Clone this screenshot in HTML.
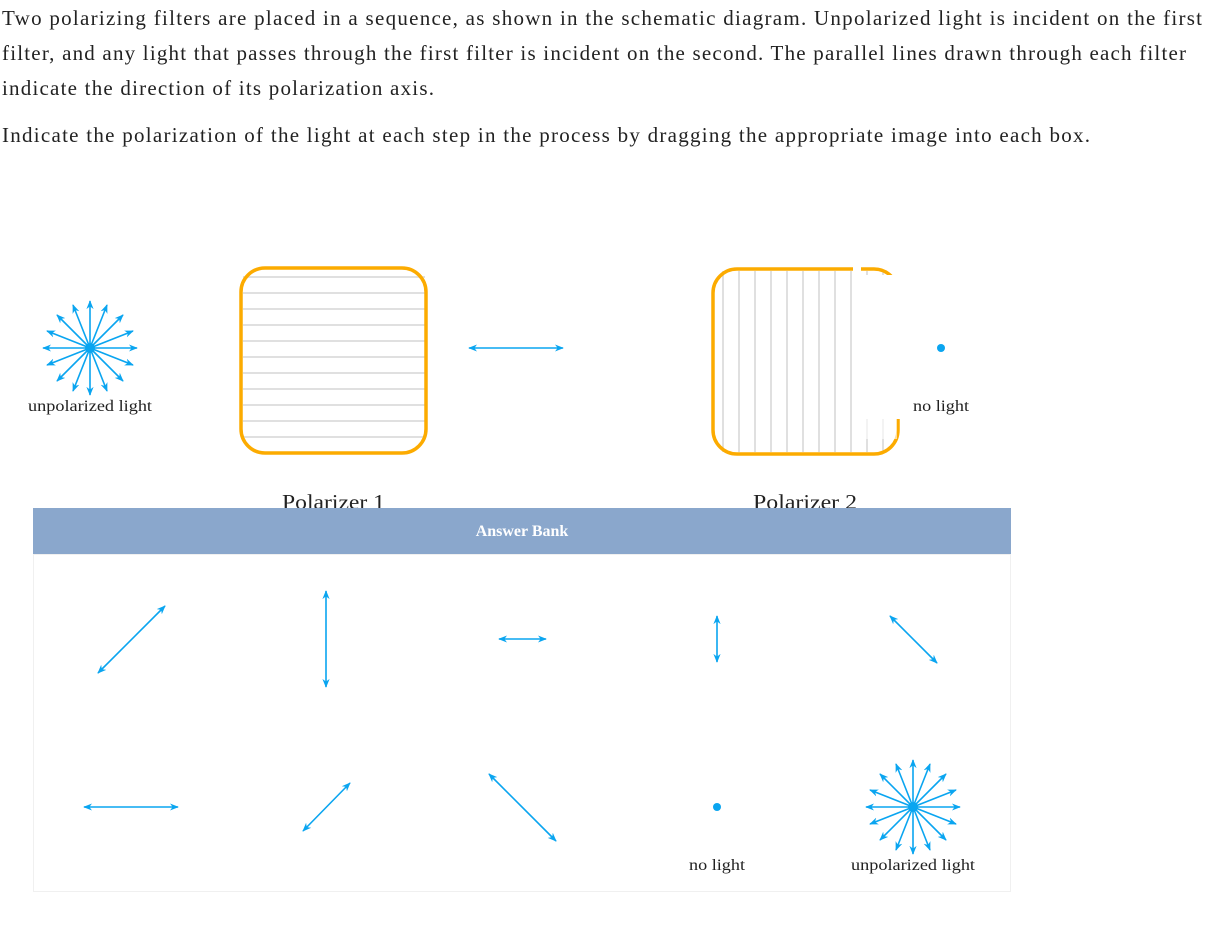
<!DOCTYPE html>
<html><head><meta charset="utf-8"><style>
html,body{margin:0;padding:0;background:#fff;width:1222px;height:951px;overflow:hidden}
svg{display:block}
text{font-family:"Liberation Serif",serif;fill:#222}
</style></head><body>
<svg width="1222" height="951" viewBox="0 0 1222 951" xmlns="http://www.w3.org/2000/svg">
<defs>
<marker id="a" viewBox="0 0 10 10" refX="9" refY="5" markerWidth="9" markerHeight="9" markerUnits="userSpaceOnUse" orient="auto-start-reverse">
<path d="M0,1 L10,5 L0,9 L3,5 Z" fill="#0aa5f0"/></marker>
</defs>
<g font-size="21">
<text x="2" y="25" textLength="1200" lengthAdjust="spacing">Two polarizing filters are placed in a sequence, as shown in the schematic diagram. Unpolarized light is incident on the first</text>
<text x="2" y="60" textLength="1184" lengthAdjust="spacing">filter, and any light that passes through the first filter is incident on the second. The parallel lines drawn through each filter</text>
<text x="2" y="95" textLength="432" lengthAdjust="spacing">indicate the direction of its polarization axis.</text>
<text x="2" y="142" textLength="1088" lengthAdjust="spacing">Indicate the polarization of the light at each step in the process by dragging the appropriate image into each box.</text>
</g>
<g stroke="#0aa5f0" stroke-width="1.6" fill="none" marker-start="url(#a)" marker-end="url(#a)">
<line x1="43" y1="348" x2="137" y2="348"/>
<line x1="90" y1="301" x2="90" y2="395"/>
<line x1="57" y1="315" x2="123" y2="381"/>
<line x1="123" y1="315" x2="57" y2="381"/>
<line x1="73" y1="305" x2="107" y2="391"/>
<line x1="107" y1="305" x2="73" y2="391"/>
<line x1="47" y1="331" x2="133" y2="365"/>
<line x1="133" y1="331" x2="47" y2="365"/>
<line x1="469" y1="348" x2="563" y2="348"/>
<line x1="98" y1="673" x2="165" y2="606"/>
<line x1="326" y1="591" x2="326" y2="687"/>
<line x1="499" y1="639" x2="546" y2="639"/>
<line x1="717" y1="616" x2="717" y2="662"/>
<line x1="890" y1="616" x2="937" y2="663"/>
<line x1="84" y1="807" x2="178" y2="807"/>
<line x1="303" y1="831" x2="350" y2="783"/>
<line x1="489" y1="774" x2="556" y2="841"/>
<line x1="866" y1="807" x2="960" y2="807"/>
<line x1="913" y1="760" x2="913" y2="854"/>
<line x1="880" y1="774" x2="946" y2="840"/>
<line x1="946" y1="774" x2="880" y2="840"/>
<line x1="896" y1="764" x2="930" y2="850"/>
<line x1="930" y1="764" x2="896" y2="850"/>
<line x1="870" y1="790" x2="956" y2="824"/>
<line x1="956" y1="790" x2="870" y2="824"/>
</g>
<circle cx="90" cy="348" r="5" fill="#0aa5f0"/>
<circle cx="913" cy="807" r="5" fill="#0aa5f0"/>
<circle cx="941" cy="348" r="4" fill="#0aa5f0"/>
<circle cx="717" cy="807" r="4" fill="#0aa5f0"/>
<text x="28" y="411" font-size="16" textLength="124" lengthAdjust="spacingAndGlyphs">unpolarized light</text>
<text x="913" y="411" font-size="16" textLength="56" lengthAdjust="spacingAndGlyphs">no light</text>
<text x="689" y="870" font-size="16" textLength="56" lengthAdjust="spacingAndGlyphs">no light</text>
<text x="851" y="870" font-size="16" textLength="124" lengthAdjust="spacingAndGlyphs">unpolarized light</text>
<g stroke="#d6d6d6" stroke-width="1.5">
<line x1="243" y1="277" x2="425" y2="277"/><line x1="243" y1="293" x2="425" y2="293"/><line x1="243" y1="309" x2="425" y2="309"/><line x1="243" y1="325" x2="425" y2="325"/><line x1="243" y1="341" x2="425" y2="341"/><line x1="243" y1="357" x2="425" y2="357"/><line x1="243" y1="373" x2="425" y2="373"/><line x1="243" y1="389" x2="425" y2="389"/><line x1="243" y1="405" x2="425" y2="405"/><line x1="243" y1="421" x2="425" y2="421"/><line x1="243" y1="437" x2="425" y2="437"/>
</g>
<rect x="241" y="268" width="185" height="185" rx="24" fill="none" stroke="#fcab00" stroke-width="3.5"/>
<g stroke="#d6d6d6" stroke-width="1.5">
<line x1="723" y1="271" x2="723" y2="452"/><line x1="739" y1="271" x2="739" y2="452"/><line x1="755" y1="271" x2="755" y2="452"/><line x1="771" y1="271" x2="771" y2="452"/><line x1="787" y1="271" x2="787" y2="452"/><line x1="803" y1="271" x2="803" y2="452"/><line x1="819" y1="271" x2="819" y2="452"/><line x1="835" y1="271" x2="835" y2="452"/><line x1="851" y1="271" x2="851" y2="452"/><line x1="867" y1="271" x2="867" y2="452"/><line x1="883" y1="271" x2="883" y2="452"/>
</g>
<rect x="713" y="269" width="185" height="185" rx="24" fill="none" stroke="#fcab00" stroke-width="3.5"/>
<rect x="853" y="262" width="8" height="12" fill="#fff"/>
<rect x="861" y="275" width="40" height="144" fill="#fff"/>
<rect x="861" y="419" width="36" height="20" fill="#fff" opacity="0.6"/>
<text x="282" y="509" font-size="21" textLength="103" lengthAdjust="spacingAndGlyphs">Polarizer 1</text>
<text x="753" y="509" font-size="21" textLength="104" lengthAdjust="spacingAndGlyphs">Polarizer 2</text>
<rect x="33.5" y="554.5" width="977" height="337" fill="none" stroke="#f0f0f0"/>
<rect x="33" y="508" width="978" height="46" fill="#8aa7cc"/>
<text x="522" y="536" font-size="16" font-weight="bold" text-anchor="middle" style="fill:#fff">Answer Bank</text>
</svg>
</body></html>
